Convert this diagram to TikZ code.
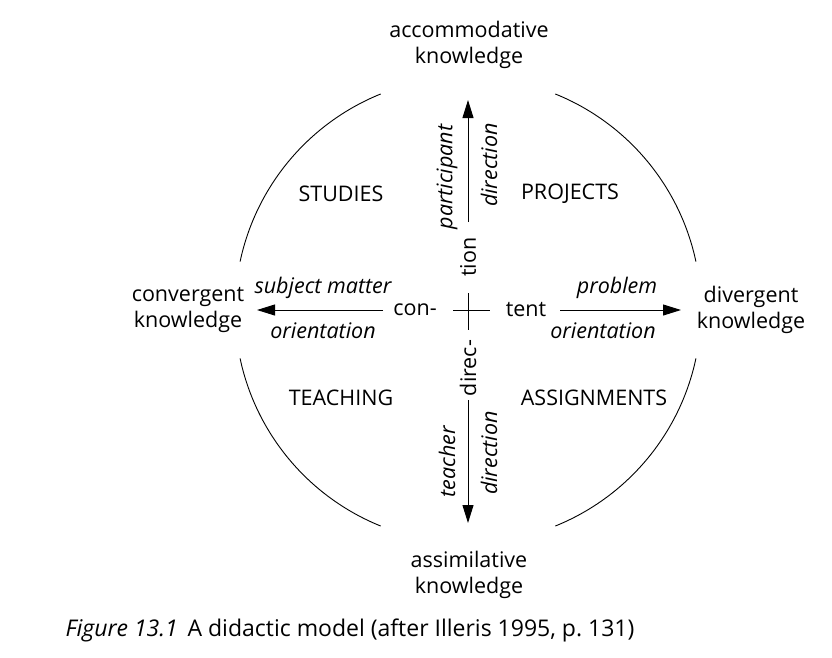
\documentclass[tikz,border=0pt]{standalone}
\usepackage{fontspec}
\setmainfont{Open Sans}
\usetikzlibrary{arrows.meta,calc}
\begin{document}
\begin{tikzpicture}[x=1pt,y=-1pt,
  txt/.style={font=\fontsize{21.5}{26}\selectfont, inner sep=1pt},
  itx/.style={font=\fontsize{21.5}{26}\selectfont\itshape, inner sep=1pt},
  ar/.style={line width=1pt,-{Triangle[length=18pt,width=11pt]}},
  arc/.style={line width=0.9pt}]
\useasboundingbox (0,0) rectangle (832,657);
\coordinate (c) at (468,310);
\draw[arc] ($(c)+(12:233)$) arc (12:68:233);
\draw[arc] ($(c)+(112:233)$) arc (112:168:233);
\draw[arc] ($(c)+(192:233)$) arc (192:248:233);
\draw[arc] ($(c)+(292:233)$) arc (292:348:233);
\node[txt,align=center] (top) at (469,45) {accommodative\\knowledge};
\node[txt,align=center] (bot) at (469,575) {assimilative\\knowledge};
\node[txt,align=center] (lft) at (188,310) {convergent\\knowledge};
\node[txt,align=center] (rgt) at (751,310) {divergent\\knowledge};
\coordinate (u0) at (468,222); \coordinate (u1) at (468,100);
\coordinate (d0) at (468,400); \coordinate (d1) at (468,523);
\coordinate (l0) at (383,310); \coordinate (l1) at (257,310);
\coordinate (r0) at (560,310); \coordinate (r1) at (681,310);
\draw[ar] (u0) -- (u1);
\draw[ar] (d0) -- (d1);
\draw[ar] (l0) -- (l1);
\draw[ar] (r0) -- (r1);
\coordinate (cx0) at (453,310); \coordinate (cx1) at (490,310);
\coordinate (cy0) at (468,293); \coordinate (cy1) at (468,330);
\draw[line width=0.8pt] (cx0) -- (cx1) (cy0) -- (cy1);
\node[txt] (con) at (415,310) {con-};
\node[txt] (tent) at (526,310) {tent};
\node[txt,rotate=90] (tion) at (468,257) {tion};
\node[txt,rotate=90] (direc) at (468,368) {direc-};
\node[itx,rotate=90] (part) at (447,177) {participant};
\node[itx,rotate=90] (pdir) at (489,165) {direction};
\node[itx,rotate=90] (teach) at (447,462) {teacher};
\node[itx,rotate=90] (tdir) at (489,453) {direction};
\node[itx] (subj) at (323,288) {subject matter};
\node[itx] (ori1) at (323,331) {orientation};
\node[itx] (prob) at (617,288) {problem};
\node[itx] (ori2) at (603,331) {orientation};
\node[txt] (stud) at (341,194) {STUDIES};
\node[txt] (proj) at (570,194) {PROJECTS};
\node[txt] (teachq) at (341,398) {TEACHING};
\node[txt] (assign) at (594,398) {ASSIGNMENTS};
\node[anchor=west,font=\fontsize{23}{28}\selectfont] (cap) at (62,630) {\textit{Figure 13.1}\, A didactic model (after Illeris 1995, p.\ 131)};
\end{tikzpicture}
\end{document}
